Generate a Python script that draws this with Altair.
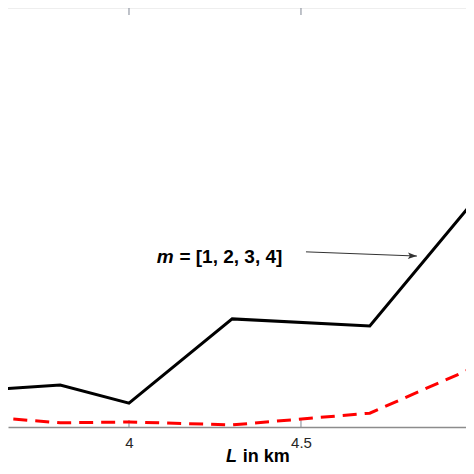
import altair as alt
import pandas as pd

# ---- data ----
L_km = [3.6, 3.8, 4.0, 4.3, 4.7, 5.0]
black_vals = [0.89, 1.00, 0.57, 2.58, 2.41, 5.37]
red_vals = [0.23, 0.10, 0.12, 0.05, 0.33, 1.41]
x_ticks = [4.0, 4.5, 5.0]
x_domain = [3.6483, 4.9797]
y_domain = [0, 10]

# annotation text / arrow (data coordinates)
ann_m_x, ann_rest_x, ann_y = 4.081, 4.1466, 3.91
ann_rest = "= [1, 2, 3, 4]"
arrow_x1, arrow_y1, arrow_x2, arrow_y2 = 4.5145, 4.18, 4.837, 4.08
title_L_x, title_rest_x, title_y = 4.282, 4.331, -0.835

FONT = "Liberation Sans"

df = pd.DataFrame({"L": L_km, "black": black_vals, "red": red_vals})
ticks_df = pd.DataFrame({"t": x_ticks})
arrow_df = pd.DataFrame({"x": [arrow_x1], "y": [arrow_y1], "x2": [arrow_x2], "y2": [arrow_y2]})
head_df = pd.DataFrame({"x": [arrow_x2], "y": [arrow_y2]})
ann_df = pd.DataFrame({"x": [ann_m_x, ann_rest_x], "y": [ann_y, ann_y], "txt": ["m", ann_rest]})
title_df = pd.DataFrame({"x": [title_L_x, title_rest_x], "y": [title_y, title_y], "txt": ["L", "in km"]})

xs = alt.Scale(domain=x_domain, nice=False, zero=False)
ys = alt.Scale(domain=y_domain, nice=False, zero=False)
xaxis = alt.Axis(values=x_ticks, format="~g", ticks=False, tickSize=0,
                 domainColor="#8c8c8c", domainWidth=1.5, labelFont=FONT,
                 labelFontSize=15, labelColor="#262626", labelPadding=8,
                 grid=False, title=None)

black_line = alt.Chart(df).mark_line(color="black", strokeWidth=3, clip=True).encode(
    x=alt.X("L:Q", scale=xs, axis=xaxis),
    y=alt.Y("black:Q", scale=ys, axis=None),
)
red_line = alt.Chart(df).mark_line(color="#ff0000", strokeWidth=3, strokeDash=[14, 8], clip=True).encode(
    x=alt.X("L:Q", scale=xs, axis=xaxis),
    y=alt.Y("red:Q", scale=ys, axis=None),
)

top_line = alt.Chart(ticks_df).mark_rule(color="#ececec", strokeWidth=1).encode(
    x=alt.value(0), x2=alt.value(458), y=alt.value(0)
)
bottom_ticks = alt.Chart(ticks_df).mark_rule(color="#7f8794", strokeWidth=1).encode(
    x=alt.X("t:Q", scale=xs, axis=xaxis), y=alt.value(419), y2=alt.value(412)
)
top_ticks = alt.Chart(ticks_df).mark_rule(color="#7f8794", strokeWidth=1).encode(
    x=alt.X("t:Q", scale=xs, axis=xaxis), y=alt.value(0), y2=alt.value(7)
)

arrow = alt.Chart(arrow_df).mark_rule(color="#333333", strokeWidth=1).encode(
    x=alt.X("x:Q", scale=xs, axis=xaxis), y=alt.Y("y:Q", scale=ys, axis=None),
    x2="x2:Q", y2="y2:Q",
)
head = alt.Chart(head_df).mark_point(
    shape="M0,0L-1.8,-0.65L-1.4,0L-1.8,0.65Z", filled=True, color="#333333",
    size=100, angle=2, opacity=1,
).encode(x=alt.X("x:Q", scale=xs, axis=xaxis), y=alt.Y("y:Q", scale=ys, axis=None))

ann_m = alt.Chart(ann_df.iloc[[0]]).mark_text(
    font=FONT, fontSize=19, fontWeight="bold", fontStyle="italic",
    align="left", baseline="alphabetic", color="black",
).encode(x=alt.X("x:Q", scale=xs, axis=xaxis), y=alt.Y("y:Q", scale=ys, axis=None), text="txt:N")
ann_r = alt.Chart(ann_df.iloc[[1]]).mark_text(
    font=FONT, fontSize=19, fontWeight="bold",
    align="left", baseline="alphabetic", color="black",
).encode(x=alt.X("x:Q", scale=xs, axis=xaxis), y=alt.Y("y:Q", scale=ys, axis=None), text="txt:N")

t_L = alt.Chart(title_df.iloc[[0]]).mark_text(
    font=FONT, fontSize=18, fontWeight="bold", fontStyle="italic",
    align="left", baseline="alphabetic", color="black",
).encode(x=alt.X("x:Q", scale=xs, axis=xaxis), y=alt.Y("y:Q", scale=ys, axis=None), text="txt:N")
t_r = alt.Chart(title_df.iloc[[1]]).mark_text(
    font=FONT, fontSize=18, fontWeight="bold",
    align="left", baseline="alphabetic", color="black",
).encode(x=alt.X("x:Q", scale=xs, axis=xaxis), y=alt.Y("y:Q", scale=ys, axis=None), text="txt:N")

chart = alt.layer(
    top_line, bottom_ticks, top_ticks, red_line, black_line, arrow, head, ann_m, ann_r, t_L, t_r
).properties(
    width=458, height=419,
    autosize=alt.AutoSizeParams(type="none"),
    padding={"left": 0, "top": 0, "right": 0, "bottom": 39},
    background="white",
).configure_view(strokeWidth=0)

chart.save("out.html", embed_options={"renderer": "svg", "actions": False})
